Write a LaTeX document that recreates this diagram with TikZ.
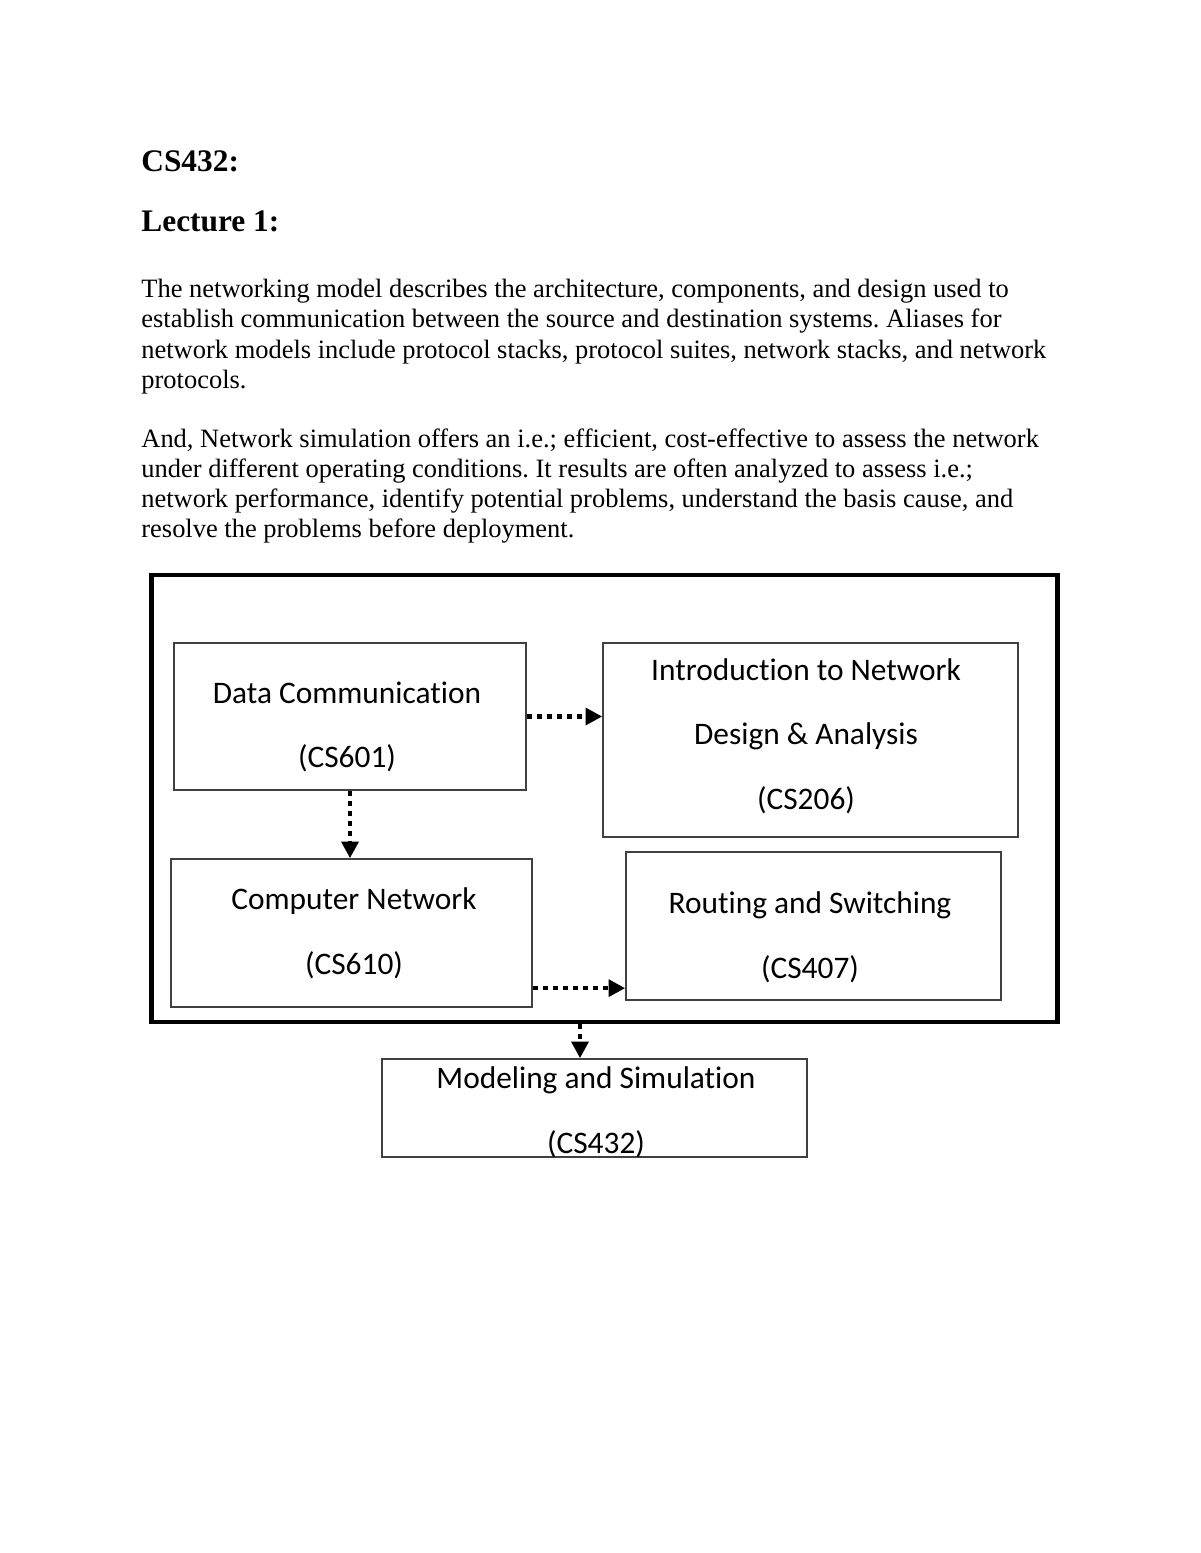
\documentclass[tikz,border=0pt]{standalone}
\usepackage{fontspec}
\setmainfont{Liberation Serif}
\newfontfamily\boxfont[Ligatures=NoCommon]{Carlito}
\usetikzlibrary{arrows.meta}
\frenchspacing

\begin{document}
\begin{tikzpicture}[x=0.51pt,y=-0.51pt,>={Triangle[length=8.5pt,width=8.5pt]},
dotarrow/.style={->,line width=2.3pt,dash pattern=on 2.5pt off 2.6pt},
course/.style={draw=black!75,line width=0.75pt,inner sep=0pt},
coursetext/.style={align=center,inner sep=0pt,font=\boxfont\fontsize{16}{33}\selectfont},
heading/.style={anchor=base west,inner sep=0pt,font=\bfseries\fontsize{16}{19}\selectfont},
para/.style={anchor=north west,inner sep=0pt,align=left,font=\fontsize{13.5}{15.4}\selectfont}]
\useasboundingbox (0,0) rectangle (1200,1553);

% page text
\node[heading] (title) at (141,172) {CS432:};
\node[heading] (lecture) at (141,232) {Lecture 1:};
\node[para] (model) at (141,279) {The networking model describes the architecture, components, and design used to\\
establish communication between the source and destination systems. Aliases for\\
network models include protocol stacks, protocol suites, network stacks, and network\\
protocols.};
\node[para] (sim) at (141,428) {And, Network simulation offers an i.e.; efficient, cost-effective to assess the network\\
under different operating conditions. It results are often analyzed to assess i.e.;\\
network performance, identify potential problems, understand the basis cause, and\\
resolve the problems before deployment.};

% course map
\node[draw,line width=2.5pt,inner sep=0pt,minimum width=461.6pt,minimum height=228pt] (canvas) at (604.5,798.5) {};
\node[course,minimum width=179.5pt,minimum height=75pt] (dc) at (350,716.5) {};
\node[course,minimum width=211.7pt,minimum height=98.9pt] (intro) at (810.5,740) {};
\node[course,minimum width=184.1pt,minimum height=75.5pt] (cn) at (351.5,933) {};
\node[course,minimum width=191.3pt,minimum height=75.5pt] (rs) at (813.5,926) {};
\node[course,minimum width=216.8pt,minimum height=50pt] (ms) at (594.5,1108) {};

\node[coursetext] (dc-name) at (347,727) {Data Communication\\(CS601)};
\node[coursetext] (intro-name) at (806,736) {Introduction to Network\\Design \& Analysis\\(CS206)};
\node[coursetext] (cn-name) at (354,933) {Computer Network\\(CS610)};
\node[coursetext] (rs-name) at (810,937) {Routing and Switching\\(CS407)};
\node[coursetext] (ms-name) at (596,1112) {Modeling and Simulation\\(CS432)};

\coordinate (cnout) at ([yshift=10pt]cn.south east);
\coordinate (canvasout) at (580,1024);

\draw[dotarrow] (dc.east) -- (dc.east -| intro.west);
\draw[dotarrow] (dc.south) -- (dc.south |- cn.north);
\draw[dotarrow] (cnout) -- (cnout -| rs.west);
\draw[dotarrow] (canvasout) -- (canvasout |- ms.north);

\end{tikzpicture}
\end{document}
